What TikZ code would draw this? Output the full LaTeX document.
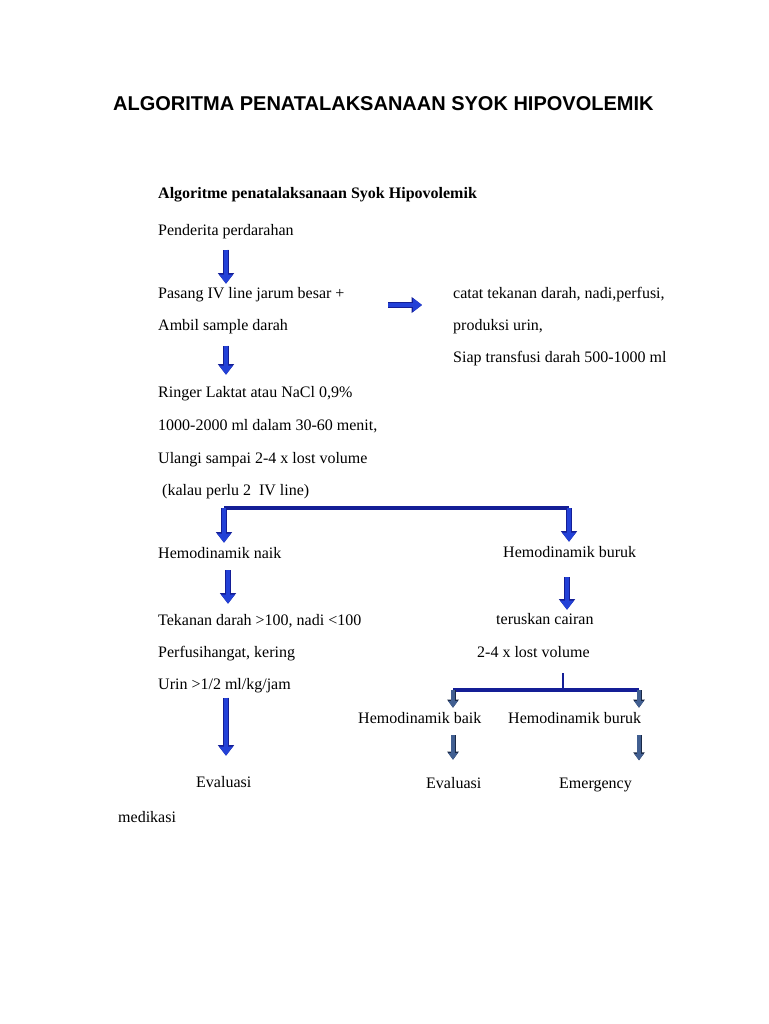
\documentclass[tikz,border=0pt]{standalone}
\usepackage{fontspec}
\setmainfont{Liberation Serif}
\newfontfamily\headfont{Liberation Sans}
\usetikzlibrary{arrows.meta}
\definecolor{arrowblue}{RGB}{35,65,215}
\definecolor{barblue}{RGB}{20,30,150}
\definecolor{steelarrow}{RGB}{65,95,145}
\definecolor{steeledge}{RGB}{25,40,70}

\tikzset{
  txt/.style = {anchor=base west, inner sep=0pt, font=\fontsize{16}{19}\selectfont},
  bigarrow/.style = {draw=arrowblue, line width=4.5pt, -{Triangle[width=13pt, length=9pt]},
    preaction={draw=barblue, line width=6.5pt, -{Triangle[width=15.5pt, length=10.5pt]}}},
  smallarrow/.style = {draw=steelarrow, line width=3.5pt, -{Triangle[width=9pt, length=6.5pt]},
    preaction={draw=steeledge, line width=5pt, -{Triangle[width=11pt, length=8pt]}}},
  bar/.style = {draw=barblue, line width=4pt},
}

\begin{document}
\begin{tikzpicture}[x=1pt, y=-1pt]
\useasboundingbox (0,0) rectangle (768,1024);
\fill[white] (0,0) rectangle (768,1024);

\node[anchor=base west, inner sep=0pt, font=\headfont\bfseries\fontsize{20}{24}\selectfont] (title) at (113,111) {ALGORITMA PENATALAKSANAAN SYOK HIPOVOLEMIK};

\node[txt, font=\bfseries\fontsize{16}{19}\selectfont] (algo) at (158,199) {Algoritme penatalaksanaan Syok Hipovolemik};
\node[txt] (pend) at (158,236) {Penderita perdarahan};
\node[txt] (pasang) at (158,298) {Pasang IV line jarum besar +};
\node[txt] (ambil) at (158,330) {Ambil sample darah};
\node[txt] (catat) at (453,298) {catat tekanan darah, nadi,perfusi,};
\node[txt] (produksi) at (453,330) {produksi urin,};
\node[txt] (siap) at (453,362) {Siap transfusi darah 500-1000 ml};
\node[txt] (ringer) at (158,397) {Ringer Laktat atau NaCl 0,9\%};
\node[txt] (dosis) at (158,430) {1000-2000 ml dalam 30-60 menit,};
\node[txt] (ulangi) at (158,463) {Ulangi sampai 2-4 x lost volume};
\node[txt] (kalau) at (158,495) {\ (kalau perlu 2\ \ IV line)};

\node[txt] (hnaik) at (158,558) {Hemodinamik naik};
\node[txt] (hburuk) at (503,557) {Hemodinamik buruk};
\node[txt] (tekanan) at (158,625) {Tekanan darah >100, nadi <100};
\node[txt] (perfusi) at (158,657) {Perfusihangat, kering};
\node[txt] (urin) at (158,689) {Urin >1/2 ml/kg/jam};
\node[txt] (teruskan) at (496,624) {teruskan cairan};
\node[txt] (lost) at (477,657) {2-4 x lost volume};
\node[txt] (hbaik2) at (358,723) {Hemodinamik baik};
\node[txt] (hburuk2) at (508,723) {Hemodinamik buruk};
\node[txt] (eval1) at (196,787) {Evaluasi};
\node[txt] (eval2) at (426,788) {Evaluasi};
\node[txt] (emerg) at (559,788) {Emergency};
\node[txt] (medikasi) at (118,822) {medikasi};

\coordinate (colA) at (226,0);
\coordinate (colB) at (567,0);
\coordinate (colC) at (453,0);
\coordinate (colD) at (639,0);
\coordinate (colS) at (563,0);
\coordinate (brL) at (224,508);
\coordinate (brR) at (569,508);
\coordinate (rowR) at (388,305);
\coordinate (rowS) at (0,690);

\draw[bigarrow, shorten <=10pt, shorten >=3pt] (pend.south -| colA) -- (pasang.north -| colA);
\draw[bigarrow, shorten >=31pt] (rowR) -- (catat.west |- rowR);
\draw[bigarrow, shorten <=12pt, shorten >=11pt] (ambil.south -| colA) -- (ringer.north -| colA);

\draw[bar] (brL) -- (brR);
\draw[bigarrow, shorten >=4pt] (brL) -- (hnaik.north -| brL);
\draw[bigarrow, shorten >=4pt] (brR) -- (hburuk.north -| brR);

\draw[bigarrow, shorten <=12pt, shorten >=10pt] (hnaik.south -| 228,0) -- (tekanan.north -| 228,0);
\draw[bigarrow, shorten <=20pt, shorten >=3pt] (hburuk.south -| colB) -- (teruskan.north -| colB);
\draw[bigarrow, shorten <=5pt, shorten >=20pt] (urin.south -| colA) -- (eval1.north -| colA);

\draw[barblue, line width=2pt, shorten <=16pt] (lost.south -| colS) -- (rowS -| colS);
\draw[bar] (rowS -| colC) -- (rowS -| colD);
\draw[smallarrow, shorten >=4pt] (rowS -| colC) -- (hbaik2.north -| colC);
\draw[smallarrow, shorten >=4pt] (rowS -| colD) -- (hburuk2.north -| colD);
\draw[smallarrow, shorten <=12pt, shorten >=17pt] (hbaik2.south -| colC) -- (eval2.north -| colC);
\draw[smallarrow, shorten <=12pt, shorten >=17pt] (hburuk2.south -| colD) -- (emerg.north -| colD);
\end{tikzpicture}
\end{document}
